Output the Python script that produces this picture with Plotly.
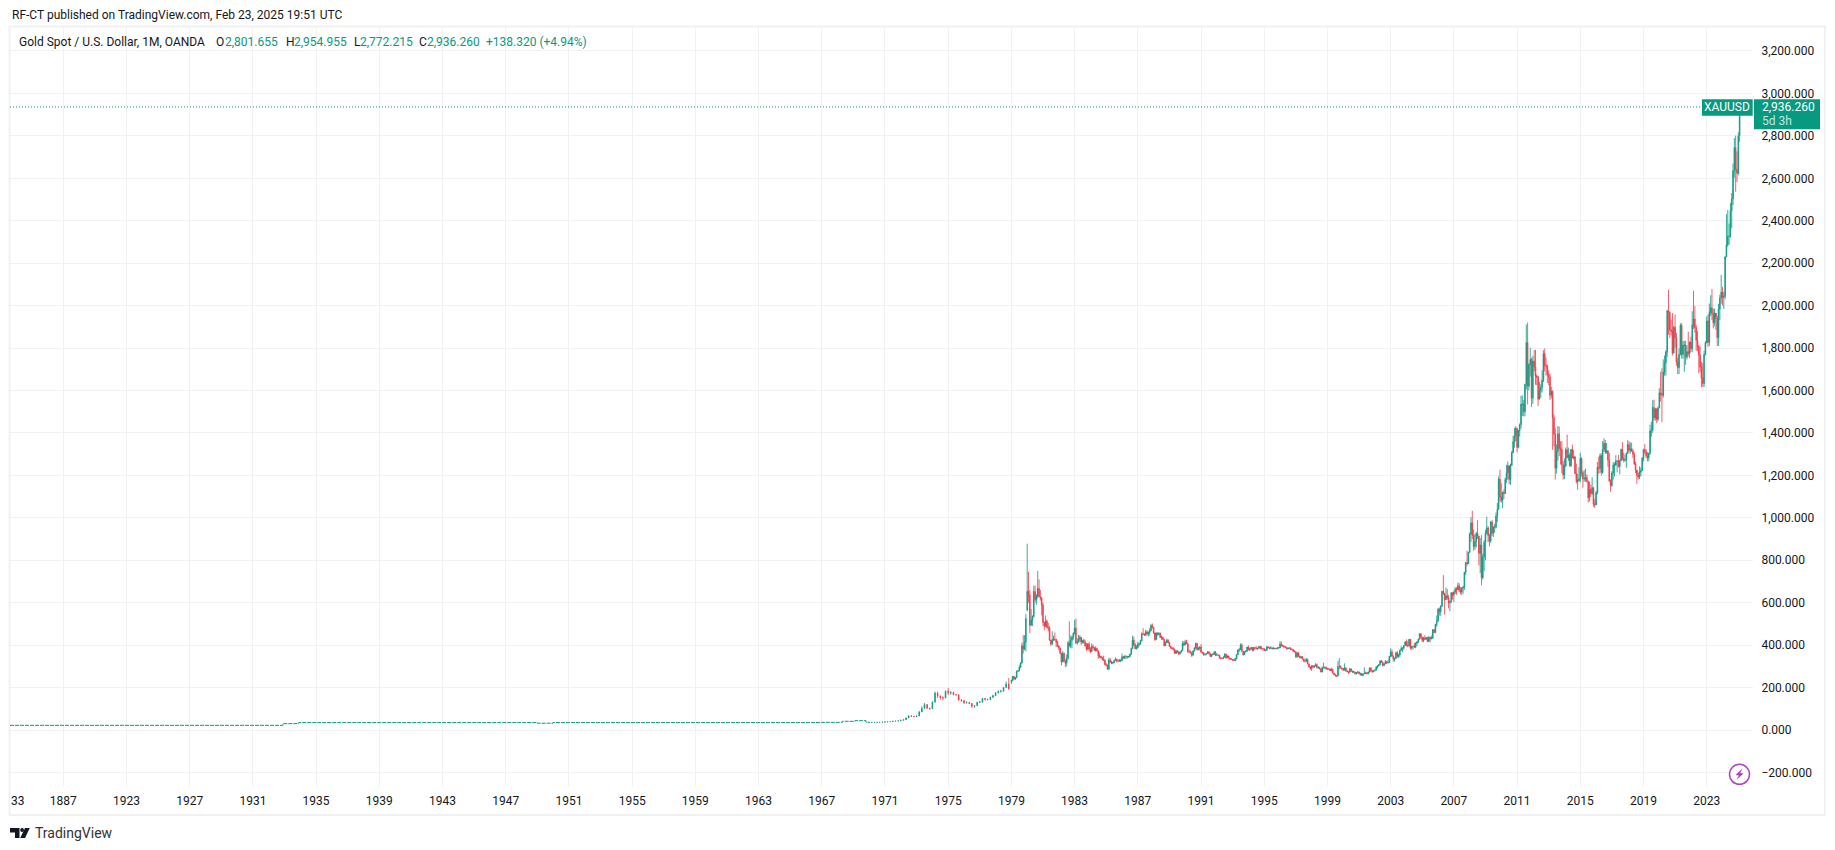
import numpy as np
import plotly.graph_objects as go

UP = "#089981"
DOWN = "#f23645"
GRID = "#f0f1f3"
TEXT = "#131722"
FONT = "Roboto"

# x axis: "slot" years, the axis squeezes the sparse old bars so 1887 sits at slot 1919
x_start = 1915.63
x_end = 2025.93
x_tick_slots = [1919, 1923, 1927, 1931, 1935, 1939, 1943, 1947, 1951, 1955, 1959, 1963,
                1967, 1971, 1975, 1979, 1983, 1987, 1991, 1995, 1999, 2003, 2007, 2011,
                2015, 2019, 2023]
x_tick_labels = ["1887", "1923", "1927", "1931", "1935", "1939", "1943", "1947", "1951",
                 "1955", "1959", "1963", "1967", "1971", "1975", "1979", "1983", "1987",
                 "1991", "1995", "1999", "2003", "2007", "2011", "2015", "2019", "2023"]

# flat fixed-price era, drawn as a thin stepped line
flat_years = [x_start, 1932.9, 1933.9, 1949.0, 1950.0, 1967.0, 1968.3, 1969.1, 1969.8, 1970.0]
flat_prices = [22, 30, 35, 32, 35, 36, 41, 44, 37, 35]

# 1970-1978, one candle every two months
early_years = [1970 + i / 6 for i in range(54)]
early_open = [35, 35, 35, 36, 36, 36,
              37, 38, 39, 40, 42, 42,
              43, 46, 48, 57, 66, 65,
              63, 66, 85, 102, 120, 103,
              100, 131, 174, 160, 154, 151,
              183, 175, 178, 167, 166, 142,
              139, 128, 130, 125, 112, 115,
              130, 132, 149, 145, 143, 154,
              162, 175, 181, 183, 200, 217]
early_high = [36, 36, 37, 37, 37, 38,
              39, 40, 41, 43, 43, 44,
              48, 49, 58, 70, 70, 66,
              68, 90, 112, 127, 122, 105,
              135, 181, 180, 163, 158, 186,
              198, 182, 178, 170, 167, 145,
              140, 134, 131, 127, 117, 133,
              137, 151, 150, 147, 157, 166,
              178, 187, 190, 202, 229, 245]
early_low = [34, 34, 35, 35, 35, 36,
             37, 38, 39, 40, 41, 42,
             43, 46, 48, 56, 62, 62,
             62, 66, 84, 100, 100, 96,
             100, 130, 150, 142, 140, 150,
             165, 166, 163, 162, 138, 132,
             123, 125, 122, 104, 104, 113,
             128, 130, 139, 140, 142, 152,
             160, 173, 177, 182, 198, 190]
early_close = [35, 35, 36, 36, 36, 37,
               38, 39, 40, 42, 42, 43,
               46, 48, 57, 66, 65, 63,
               66, 85, 102, 120, 103, 100,
               131, 174, 160, 154, 151, 183,
               175, 178, 167, 166, 142, 139,
               128, 130, 125, 112, 115, 130,
               132, 149, 145, 143, 154, 162,
               175, 181, 183, 200, 217, 194]

# monthly candles, Jan 1979 - Feb 2025, one row per year
month_open = [226, 233, 252, 240, 246, 276, 278, 296, 315, 397, 382, 415,
              565, 653, 637, 494, 518, 535, 653, 614, 631, 667, 629, 623,
              589, 507, 489, 513, 482, 479, 423, 406, 426, 428, 427, 414,
              397, 387, 362, 320, 361, 326, 315, 339, 411, 397, 423, 436,
              456, 481, 410, 414, 429, 437, 413, 422, 414, 397, 382, 405,
              381, 370, 394, 388, 375, 384, 373, 347, 348, 341, 333, 329,
              309, 306, 287, 330, 321, 316, 317, 327, 333, 326, 325, 325,
              327, 345, 339, 346, 346, 344, 346, 357, 384, 423, 401, 383,
              388, 405, 405, 421, 453, 451, 447, 462, 453, 459, 468, 492,
              484, 458, 426, 457, 449, 455, 436, 437, 427, 397, 412, 423,
              410, 394, 387, 383, 378, 361, 373, 368, 359, 367, 375, 408,
              401, 415, 407, 368, 367, 363, 352, 372, 387, 408, 379, 384,
              391, 367, 363, 355, 358, 360, 368, 362, 347, 354, 357, 366,
              353, 354, 353, 341, 337, 337, 343, 358, 340, 349, 339, 334,
              333, 330, 327, 337, 354, 377, 378, 401, 371, 355, 369, 371,
              391, 378, 381, 389, 376, 388, 386, 384, 385, 394, 383, 383,
              383, 375, 376, 392, 389, 385, 387, 383, 384, 384, 383, 387,
              387, 405, 400, 396, 391, 391, 382, 385, 387, 379, 379, 371,
              369, 345, 364, 348, 340, 345, 334, 326, 325, 332, 311, 296,
              290, 303, 297, 302, 308, 294, 296, 288, 273, 293, 292, 294,
              288, 287, 287, 279, 286, 268, 261, 256, 254, 299, 299, 292,
              290, 283, 293, 277, 275, 272, 288, 276, 277, 273, 264, 270,
              274, 265, 267, 258, 264, 267, 270, 265, 273, 293, 279, 275,
              279, 282, 296, 302, 308, 326, 318, 304, 312, 323, 316, 317,
              347, 368, 347, 334, 336, 364, 346, 354, 375, 384, 386, 398,
              416, 399, 396, 427, 387, 394, 394, 391, 408, 416, 428, 453,
              438, 422, 434, 428, 436, 417, 437, 429, 433, 473, 459, 496,
              513, 569, 557, 582, 654, 644, 614, 633, 624, 599, 604, 646,
              636, 650, 664, 662, 680, 660, 650, 668, 673, 743, 789, 783,
              838, 924, 976, 917, 865, 888, 926, 914, 833, 872, 718, 815,
              884, 928, 952, 917, 891, 980, 927, 955, 955, 1008, 1040, 1182,
              1097, 1082, 1119, 1115, 1180, 1212, 1245, 1181, 1248, 1307, 1359, 1386,
              1421, 1332, 1411, 1439, 1535, 1536, 1500, 1628, 1825, 1620, 1722, 1746,
              1564, 1738, 1711, 1668, 1664, 1559, 1598, 1614, 1648, 1773, 1719, 1714,
              1675, 1663, 1578, 1596, 1472, 1394, 1234, 1313, 1396, 1327, 1323, 1250,
              1202, 1244, 1321, 1284, 1296, 1246, 1322, 1282, 1287, 1209, 1171, 1175,
              1184, 1279, 1213, 1183, 1184, 1190, 1172, 1095, 1133, 1115, 1142, 1064,
              1061, 1118, 1237, 1233, 1293, 1214, 1322, 1351, 1309, 1316, 1272, 1173,
              1152, 1211, 1249, 1249, 1268, 1268, 1242, 1269, 1322, 1280, 1271, 1275,
              1303, 1345, 1318, 1325, 1315, 1299, 1253, 1224, 1201, 1192, 1215, 1222,
              1281, 1321, 1313, 1292, 1283, 1305, 1409, 1414, 1520, 1472, 1513, 1464,
              1517, 1589, 1586, 1577, 1686, 1730, 1781, 1975, 1968, 1886, 1879, 1777,
              1898, 1848, 1734, 1708, 1769, 1906, 1770, 1814, 1814, 1757, 1783, 1774,
              1829, 1797, 1909, 1937, 1897, 1837, 1807, 1766, 1711, 1660, 1633, 1769,
              1824, 1928, 1826, 1969, 1990, 1962, 1919, 1965, 1940, 1849, 1984, 2036,
              2063, 2039, 2044, 2230, 2286, 2327, 2327, 2448, 2503, 2635, 2744, 2643,
              2624, 2801.655]
month_high = [237, 255, 256, 250, 281, 283, 305, 320, 412, 447, 447, 546,
              878, 746, 660, 570, 540, 680, 680, 640, 750, 710, 660, 625,
              600, 510, 540, 520, 505, 490, 425, 465, 445, 460, 430, 420,
              395, 385, 340, 372, 365, 332, 356, 420, 512, 445, 445, 460,
              518, 525, 432, 448, 447, 420, 426, 430, 425, 410, 410, 416,
              390, 408, 402, 390, 395, 388, 360, 362, 350, 345, 350, 335,
              316, 308, 340, 340, 326, 322, 332, 342, 336, 334, 335, 335,
              360, 350, 352, 352, 350, 350, 360, 388, 445, 440, 410, 400,
              415, 412, 425, 460, 480, 455, 472, 470, 465, 480, 500, 502,
              482, 446, 460, 460, 462, 460, 445, 440, 430, 418, 430, 428,
              415, 397, 392, 390, 385, 378, 378, 372, 370, 375, 418, 420,
              425, 425, 405, 380, 375, 370, 376, 390, 412, 410, 392, 395,
              405, 368, 367, 360, 362, 372, 372, 362, 358, 362, 372, 372,
              362, 355, 345, 342, 342, 347, 362, 359, 352, 350, 340, 340,
              333, 335, 340, 358, 380, 386, 408, 408, 372, 370, 377, 392,
              398, 386, 392, 390, 392, 392, 394, 388, 396, 396, 395, 385,
              381, 380, 395, 393, 390, 395, 389, 392, 388, 388, 390, 392,
              418, 417, 402, 398, 395, 391, 388, 390, 388, 385, 380, 376,
              368, 366, 356, 350, 350, 347, 335, 337, 340, 336, 312, 300,
              303, 306, 304, 315, 312, 300, 296, 291, 300, 318, 300, 300,
              293, 292, 290, 293, 288, 270, 265, 258, 325, 339, 305, 295,
              292, 314, 293, 283, 278, 293, 290, 280, 278, 275, 273, 276,
              274, 269, 268, 266, 295, 276, 272, 276, 293, 294, 282, 280,
              285, 302, 306, 309, 328, 330, 324, 316, 330, 324, 330, 349,
              385, 380, 352, 342, 369, 372, 360, 379, 396, 390, 399, 417,
              427, 420, 430, 429, 396, 397, 410, 414, 417, 430, 457, 456,
              430, 439, 447, 438, 439, 443, 437, 445, 474, 476, 500, 540,
              575, 577, 589, 654, 730, 643, 672, 664, 637, 611, 650, 650,
              655, 673, 673, 695, 692, 674, 673, 680, 745, 790, 845, 838,
              931, 1003, 1033, 945, 923, 934, 989, 912, 905, 918, 830, 895,
              943, 1005, 961, 925, 985, 990, 962, 971, 1025, 1070, 1195, 1227,
              1163, 1125, 1135, 1190, 1250, 1265, 1215, 1255, 1315, 1387, 1425, 1432,
              1424, 1414, 1445, 1575, 1577, 1555, 1632, 1911, 1920, 1730, 1802, 1755,
              1764, 1790, 1792, 1675, 1668, 1640, 1630, 1695, 1790, 1798, 1755, 1722,
              1695, 1680, 1617, 1600, 1488, 1425, 1346, 1433, 1430, 1360, 1362, 1268,
              1280, 1332, 1392, 1331, 1307, 1325, 1345, 1320, 1292, 1255, 1208, 1239,
              1307, 1286, 1222, 1224, 1232, 1205, 1175, 1170, 1157, 1191, 1146, 1088,
              1127, 1263, 1287, 1304, 1303, 1362, 1375, 1367, 1352, 1319, 1306, 1182,
              1220, 1263, 1261, 1295, 1270, 1296, 1274, 1326, 1357, 1306, 1298, 1307,
              1366, 1361, 1356, 1354, 1326, 1309, 1265, 1214, 1214, 1243, 1237, 1285,
              1326, 1347, 1324, 1310, 1306, 1439, 1453, 1555, 1557, 1518, 1516, 1524,
              1611, 1689, 1704, 1747, 1765, 1790, 1981, 2075, 1973, 1933, 1965, 1906,
              1959, 1872, 1755, 1798, 1917, 1917, 1834, 1834, 1834, 1814, 1877, 1830,
              1853, 1974, 2070, 1998, 1910, 1880, 1815, 1808, 1735, 1730, 1787, 1833,
              1949, 1959, 2010, 2049, 2079, 1985, 1987, 1949, 1953, 2009, 2052, 2145,
              2088, 2065, 2223, 2431, 2450, 2387, 2484, 2531, 2670, 2790, 2801, 2726,
              2817, 2954.955]
month_low = [217, 232, 236, 235, 245, 275, 278, 293, 315, 360, 376, 370,
             560, 600, 457, 490, 490, 530, 600, 590, 620, 625, 610, 540,
             490, 470, 485, 480, 465, 420, 395, 400, 420, 420, 390, 390,
             376, 358, 305, 322, 320, 296, 300, 330, 390, 385, 385, 425,
             450, 406, 402, 415, 416, 400, 408, 405, 392, 372, 375, 370,
             362, 367, 380, 372, 370, 370, 335, 338, 338, 328, 325, 305,
             300, 284, 281, 316, 310, 310, 315, 325, 318, 320, 322, 320,
             325, 335, 335, 335, 336, 340, 342, 355, 385, 395, 380, 380,
             385, 395, 402, 418, 448, 445, 445, 445, 440, 445, 465, 478,
             453, 420, 425, 445, 448, 435, 425, 425, 395, 396, 410, 410,
             392, 382, 380, 376, 360, 358, 362, 354, 355, 365, 375, 395,
             400, 405, 365, 365, 362, 344, 352, 370, 380, 375, 375, 375,
             365, 360, 350, 350, 354, 359, 355, 345, 343, 355, 356, 348,
             350, 350, 336, 335, 335, 337, 342, 335, 340, 337, 331, 331,
             326, 325, 325, 332, 355, 368, 377, 370, 350, 355, 365, 370,
             376, 372, 380, 370, 372, 378, 380, 376, 384, 382, 380, 375,
             372, 371, 375, 384, 380, 384, 380, 380, 380, 380, 382, 384,
             386, 392, 394, 388, 389, 380, 380, 383, 378, 376, 367, 366,
             340, 340, 345, 338, 338, 333, 320, 318, 320, 311, 296, 283,
             278, 290, 292, 300, 290, 288, 286, 273, 272, 292, 290, 285,
             283, 285, 278, 279, 268, 257, 252, 251, 254, 285, 290, 281,
             278, 280, 277, 272, 263, 270, 276, 268, 268, 262, 263, 268,
             262, 255, 255, 253, 265, 265, 263, 263, 270, 275, 270, 272,
             276, 282, 290, 300, 306, 317, 300, 302, 311, 310, 315, 317,
             345, 345, 322, 322, 336, 340, 340, 345, 372, 367, 378, 397,
             394, 390, 394, 380, 376, 380, 387, 385, 397, 410, 427, 428,
             414, 413, 425, 424, 414, 420, 413, 428, 430, 458, 457, 487,
             510, 539, 538, 582, 636, 543, 614, 614, 573, 560, 600, 615,
             603, 641, 637, 659, 650, 640, 636, 642, 660, 730, 773, 785,
             835, 886, 900, 845, 849, 860, 900, 776, 740, 682, 710, 749,
             800, 920, 885, 865, 882, 915, 909, 930, 950, 980, 1040, 1075,
             1070, 1045, 1088, 1113, 1165, 1180, 1158, 1155, 1245, 1315, 1330, 1360,
             1308, 1328, 1382, 1420, 1480, 1478, 1478, 1604, 1535, 1600, 1666, 1522,
             1537, 1690, 1627, 1625, 1527, 1565, 1565, 1590, 1640, 1690, 1670, 1635,
             1625, 1555, 1563, 1320, 1338, 1180, 1208, 1270, 1290, 1251, 1210, 1180,
             1182, 1240, 1280, 1268, 1240, 1240, 1281, 1274, 1205, 1161, 1132, 1170,
             1167, 1195, 1142, 1170, 1170, 1166, 1072, 1077, 1098, 1107, 1052, 1046,
             1073, 1111, 1208, 1211, 1199, 1208, 1310, 1301, 1302, 1241, 1171, 1123,
             1146, 1180, 1195, 1243, 1214, 1237, 1205, 1268, 1271, 1261, 1264, 1236,
             1302, 1307, 1302, 1310, 1282, 1250, 1211, 1160, 1180, 1183, 1196, 1222,
             1266, 1300, 1281, 1266, 1267, 1296, 1382, 1400, 1459, 1458, 1446, 1454,
             1517, 1548, 1451, 1566, 1670, 1670, 1757, 1863, 1848, 1860, 1765, 1775,
             1802, 1717, 1677, 1677, 1765, 1750, 1750, 1688, 1721, 1746, 1760, 1753,
             1780, 1780, 1890, 1872, 1787, 1785, 1681, 1688, 1615, 1617, 1616, 1765,
             1823, 1805, 1810, 1950, 1932, 1893, 1902, 1885, 1809, 1810, 1932, 2009,
             2001, 1984, 2030, 2229, 2277, 2286, 2320, 2365, 2473, 2603, 2537, 2583,
             2614, 2772.215]
month_close = [233, 252, 240, 246, 276, 278, 296, 315, 397, 382, 415, 525,
               653, 637, 494, 518, 535, 653, 614, 631, 667, 629, 623, 589,
               507, 489, 513, 482, 479, 423, 406, 426, 428, 427, 414, 397,
               387, 362, 320, 361, 326, 315, 339, 411, 397, 423, 436, 456,
               481, 410, 414, 429, 437, 413, 422, 414, 397, 382, 405, 381,
               370, 394, 388, 375, 384, 373, 347, 348, 341, 333, 329, 309,
               306, 287, 330, 321, 316, 317, 327, 333, 326, 325, 325, 327,
               345, 339, 346, 346, 344, 346, 357, 384, 423, 401, 383, 388,
               405, 405, 421, 453, 451, 447, 462, 453, 459, 468, 492, 484,
               458, 426, 457, 449, 455, 436, 437, 427, 397, 412, 423, 410,
               394, 387, 383, 378, 361, 373, 368, 359, 367, 375, 408, 401,
               415, 407, 368, 367, 363, 352, 372, 387, 408, 379, 384, 391,
               367, 363, 355, 358, 360, 368, 362, 347, 354, 357, 366, 353,
               354, 353, 341, 337, 337, 343, 358, 340, 349, 339, 334, 333,
               330, 327, 337, 354, 377, 378, 401, 371, 355, 369, 371, 391,
               378, 381, 389, 376, 388, 386, 384, 385, 394, 383, 383, 383,
               375, 376, 392, 389, 385, 387, 383, 384, 384, 383, 387, 387,
               405, 400, 396, 391, 391, 382, 385, 387, 379, 379, 371, 369,
               345, 364, 348, 340, 345, 334, 326, 325, 332, 311, 296, 290,
               303, 297, 302, 308, 294, 296, 288, 273, 293, 292, 294, 288,
               287, 287, 279, 286, 268, 261, 256, 254, 299, 299, 292, 290,
               283, 293, 277, 275, 272, 288, 276, 277, 273, 264, 270, 274,
               265, 267, 258, 264, 267, 270, 265, 273, 293, 279, 275, 279,
               282, 296, 302, 308, 326, 318, 304, 312, 323, 316, 317, 347,
               368, 347, 334, 336, 364, 346, 354, 375, 384, 386, 398, 416,
               399, 396, 427, 387, 394, 394, 391, 408, 416, 428, 453, 438,
               422, 434, 428, 436, 417, 437, 429, 433, 473, 459, 496, 513,
               569, 557, 582, 654, 644, 614, 633, 624, 599, 604, 646, 636,
               650, 664, 662, 680, 660, 650, 668, 673, 743, 789, 783, 838,
               924, 976, 917, 865, 888, 926, 914, 833, 872, 718, 815, 884,
               928, 952, 917, 891, 980, 927, 955, 955, 1008, 1040, 1182, 1097,
               1082, 1119, 1115, 1180, 1212, 1245, 1181, 1248, 1307, 1359, 1386, 1421,
               1332, 1411, 1439, 1535, 1536, 1500, 1628, 1825, 1620, 1722, 1746, 1564,
               1738, 1711, 1668, 1664, 1559, 1598, 1614, 1648, 1773, 1719, 1714, 1675,
               1663, 1578, 1596, 1472, 1394, 1234, 1313, 1396, 1327, 1323, 1250, 1202,
               1244, 1321, 1284, 1296, 1246, 1322, 1282, 1287, 1209, 1171, 1175, 1184,
               1279, 1213, 1183, 1184, 1190, 1172, 1095, 1133, 1115, 1142, 1064, 1061,
               1118, 1237, 1233, 1293, 1214, 1322, 1351, 1309, 1316, 1272, 1173, 1152,
               1211, 1249, 1249, 1268, 1268, 1242, 1269, 1322, 1280, 1271, 1275, 1303,
               1345, 1318, 1325, 1315, 1299, 1253, 1224, 1201, 1192, 1215, 1222, 1281,
               1321, 1313, 1292, 1283, 1305, 1409, 1414, 1520, 1472, 1513, 1464, 1517,
               1589, 1586, 1577, 1686, 1730, 1781, 1975, 1968, 1886, 1879, 1777, 1898,
               1848, 1734, 1708, 1769, 1906, 1770, 1814, 1814, 1757, 1783, 1774, 1829,
               1797, 1909, 1937, 1897, 1837, 1807, 1766, 1711, 1660, 1633, 1769, 1824,
               1928, 1826, 1969, 1990, 1962, 1919, 1965, 1940, 1849, 1984, 2036, 2063,
               2039, 2044, 2230, 2286, 2327, 2327, 2448, 2503, 2635, 2744, 2643, 2624,
               2798, 2936.26]

last_close = 2936.26

assert len(month_open) == len(month_high) == len(month_low) == len(month_close)
month_years = [1979 + i / 12 for i in range(len(month_close))]


# page pixels -> paper coords, plot box is 10..1753 x 27..787
def px(x):
    return (x - 10) / 1743


def py(y):
    return 1 - (y - 27) / 760


fig = go.Figure()

fig.add_trace(go.Scatter(x=flat_years, y=flat_prices, mode="lines",
                         line=dict(color=UP, width=1, shape="hv", dash="4px,1px"),
                         hoverinfo="skip", showlegend=False))

fig.add_trace(go.Candlestick(x=early_years + month_years,
                             open=early_open + month_open,
                             high=early_high + month_high,
                             low=early_low + month_low,
                             close=early_close + month_close,
                             increasing=dict(line=dict(color=UP, width=0.8), fillcolor=UP),
                             decreasing=dict(line=dict(color=DOWN, width=0.8), fillcolor=DOWN),
                             whiskerwidth=0, showlegend=False))

shapes = [
    # outer frame
    dict(type="rect", xref="paper", yref="paper", x0=px(9.5), x1=px(1825), y0=py(815), y1=py(26.5),
         line=dict(color="#f1f1f1", width=2), layer="below"),
    # last price line
    dict(type="line", xref="paper", yref="y", x0=0, x1=px(1702), y0=last_close, y1=last_close,
         line=dict(color=UP, width=1, dash="1px,2px")),
    # labels on the right
    dict(type="rect", xref="paper", yref="paper", x0=px(1702), x1=px(1752.7), y0=py(115.7), y1=py(99.3),
         fillcolor=UP, line=dict(width=0), layer="above"),
    dict(type="rect", xref="paper", yref="paper", x0=px(1754), x1=px(1820), y0=py(129.3), y1=py(99.3),
         fillcolor=UP, line=dict(width=0), layer="above"),
    # lightning badge
    dict(type="circle", xref="paper", yref="paper", x0=px(1729.5), x1=px(1749.5), y0=py(784.3), y1=py(764.3),
         fillcolor="white", line=dict(color="#ab47bc", width=1.5), layer="above"),
]


def path_px(points):
    return "M" + " L".join(f"{px(a):.5f},{py(b):.5f}" for a, b in points) + " Z"


bolt = [(1742.5, 768.5), (1735.5, 775), (1738.8, 775.5), (1736.5, 780), (1743.5, 773.5), (1740.2, 773)]
logo_t = [(10, 828), (19.5, 828), (19.5, 838), (15, 838), (15, 832.5), (10, 832.5)]
logo_s = [(25, 828), (29.8, 828), (25, 838), (20.2, 838)]
for pts, colour in [(bolt, "#ab47bc"), (logo_t, "#131722"), (logo_s, "#131722")]:
    shapes.append(dict(type="path", xref="paper", yref="paper", path=path_px(pts),
                       fillcolor=colour, line=dict(width=0), layer="above"))
shapes.append(dict(type="circle", xref="paper", yref="paper", x0=px(20.2), x1=px(24), y0=py(832), y1=py(828),
                   fillcolor="#131722", line=dict(width=0), layer="above"))

header = [
    (17, "Gold Spot / U.S. Dollar, 1M, OANDA", TEXT),
    (214, "O", TEXT), (223, "2,801.655", UP),
    (284, "H", TEXT), (292, "2,954.955", UP),
    (352, "L", TEXT), (358, "2,772.215", UP),
    (417, "C", TEXT), (425, "2,936.260", UP),
    (484, "+138.320 (+4.94%)", UP),
]

annotations = [dict(x=px(a), y=py(42), xref="paper", yref="paper", xanchor="left", yanchor="middle",
                    text=t, showarrow=False, font=dict(family=FONT, size=12, color=c))
               for a, t, c in header]


def label(x, y, text, size=12, color=TEXT, anchor="left"):
    return dict(x=px(x), y=py(y), xref="paper", yref="paper", xanchor=anchor, yanchor="middle",
                text=text, showarrow=False, font=dict(family=FONT, size=size, color=color))


annotations += [
    label(10, 15, "RF-CT published on TradingView.com, Feb 23, 2025 19:51 UTC"),
    label(18, 801, "33", anchor="center"),
    label(33, 833, "TradingView", size=14, color="#333333"),
    label(1727.3, 107.5, "XAUUSD", color="white", anchor="center"),
    label(1760, 107, "2,936.260", color="white"),
    label(1760, 121, "5d 3h", color="#c4e6dd"),
]

fig.update_layout(
    width=1835, height=850,
    margin=dict(l=10, r=82, t=27, b=63),
    paper_bgcolor="white", plot_bgcolor="white",
    font=dict(family=FONT, size=12, color=TEXT),
    showlegend=False, shapes=shapes, annotations=annotations,
    xaxis=dict(range=[x_start, x_end], rangeslider=dict(visible=False), tickmode="array",
               tickvals=x_tick_slots, ticktext=x_tick_labels, showgrid=True, gridcolor=GRID,
               gridwidth=1, zeroline=False, showline=False, ticks="outside", ticklen=3,
               tickcolor="rgba(0,0,0,0)", tickfont=dict(family=FONT, size=12, color=TEXT)),
    yaxis=dict(range=[-268.6, 3313], side="right", tick0=0, dtick=200, tickformat=",.3f",
               showgrid=True, gridcolor=GRID, gridwidth=1, zeroline=False, showline=False,
               ticks="outside", ticklen=5, tickcolor="rgba(0,0,0,0)",
               tickfont=dict(family=FONT, size=12, color=TEXT)),
)

fig.write_html("out.html", config=dict(displayModeBar=False),
               post_script="document.body.style.margin='0';document.body.style.overflow='hidden';")
